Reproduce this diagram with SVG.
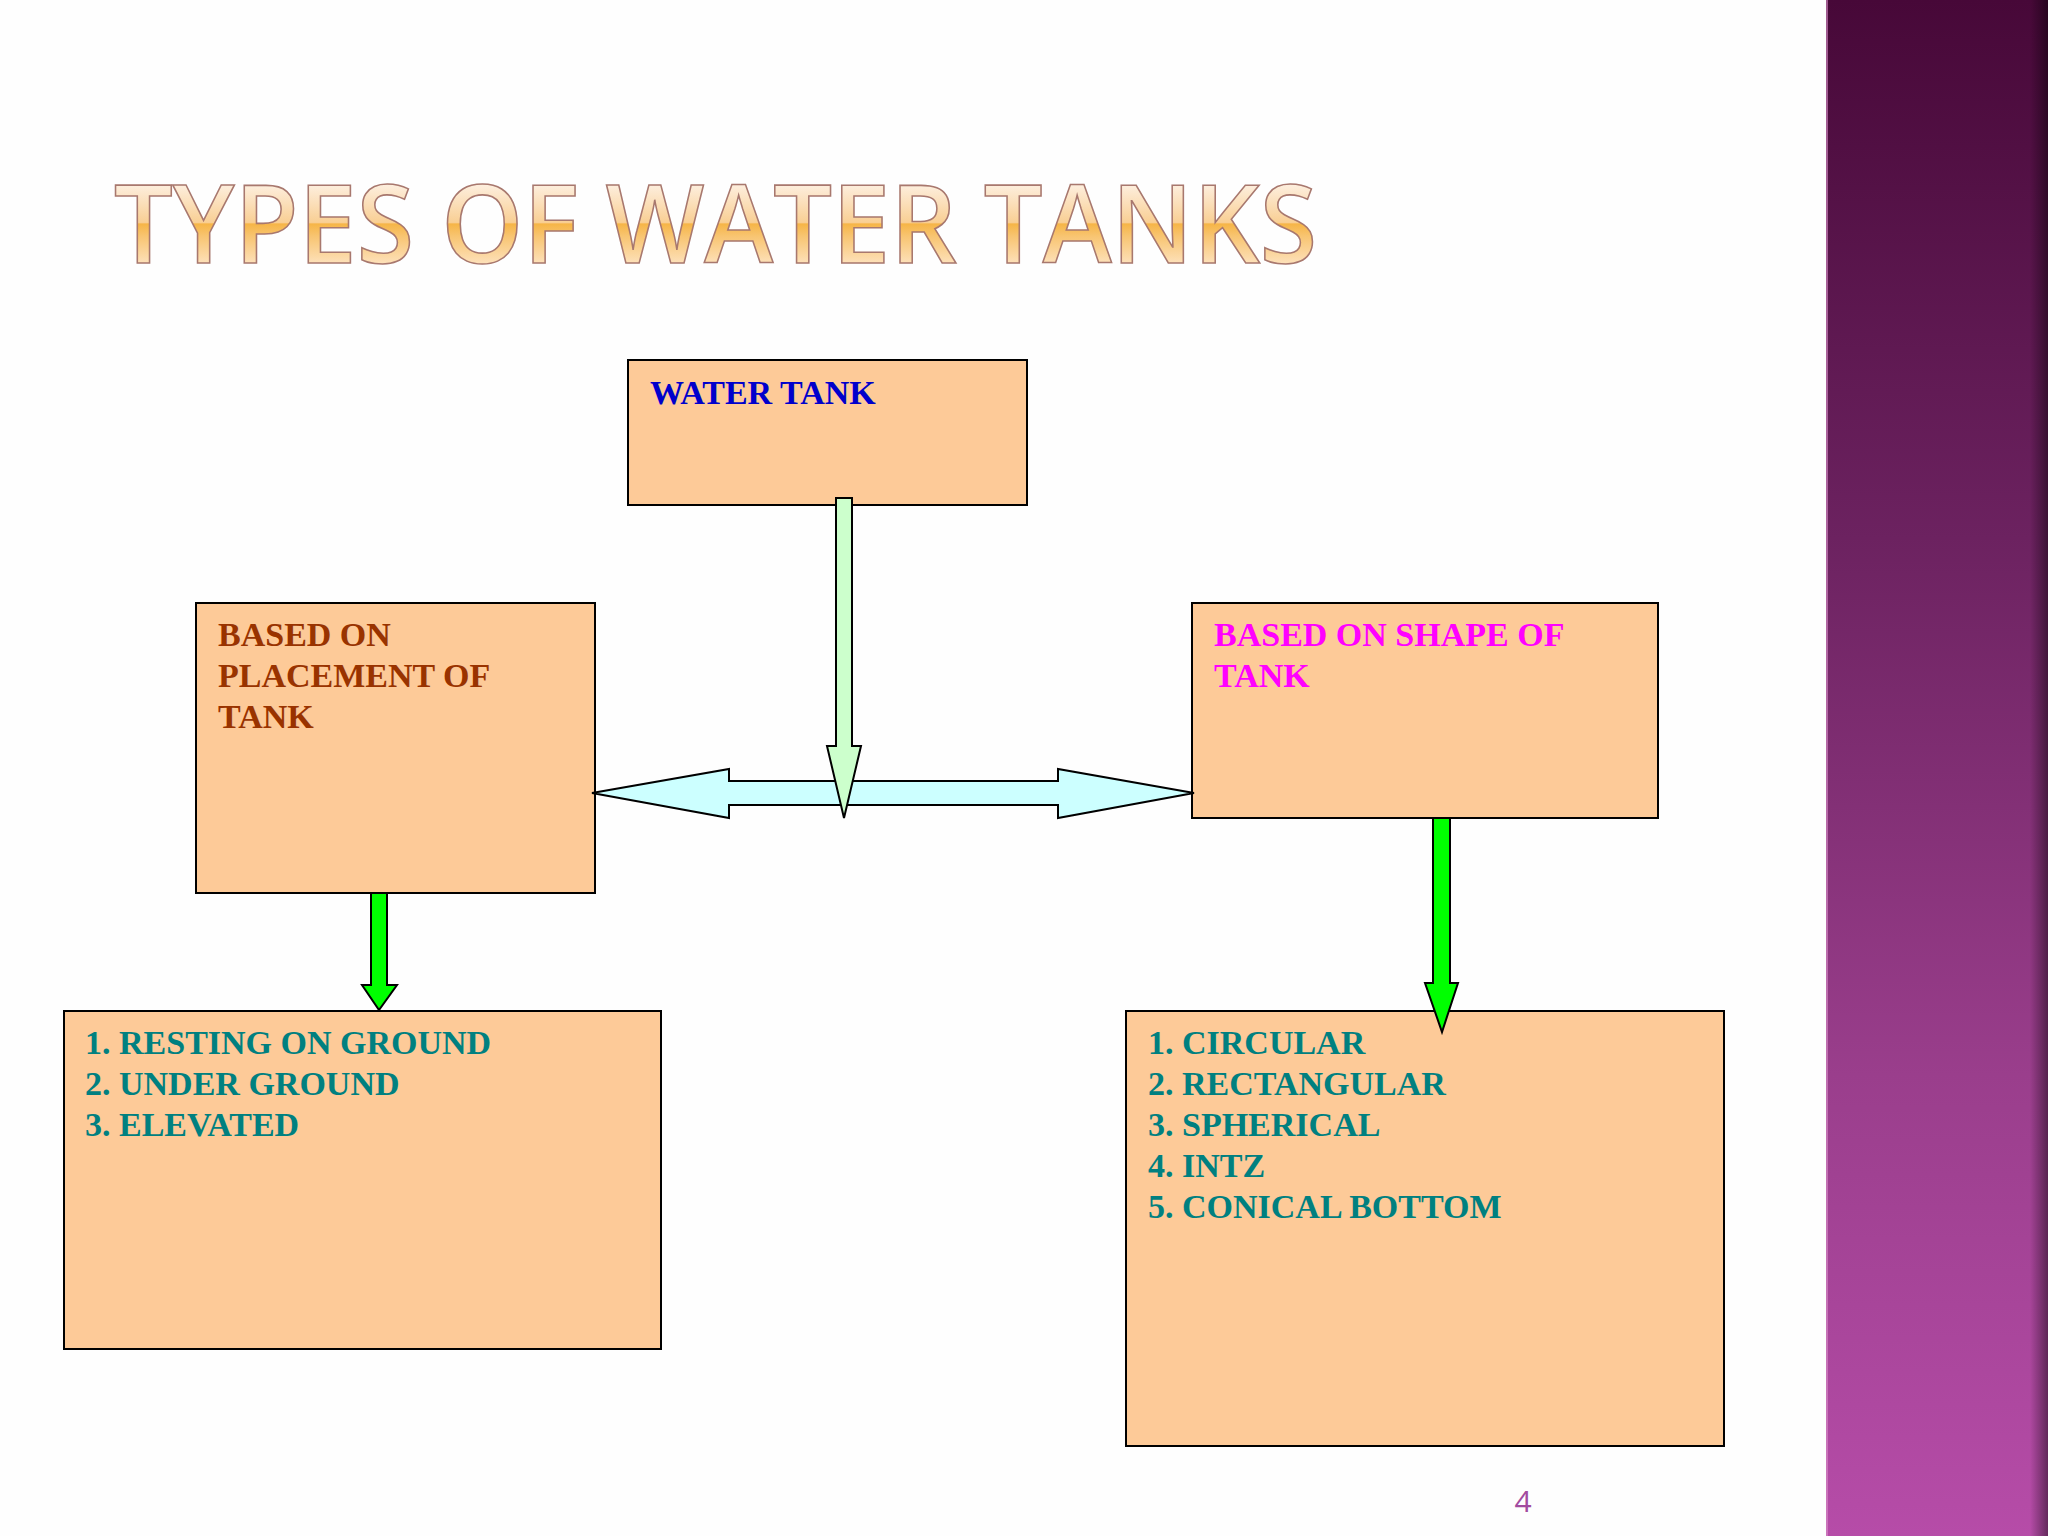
<svg xmlns="http://www.w3.org/2000/svg" width="2048" height="1536" viewBox="0 0 2048 1536">
<defs>
<linearGradient id="side" x1="0" y1="0" x2="0" y2="1">
<stop offset="0" stop-color="#470838"/>
<stop offset="0.35" stop-color="#6c2260"/>
<stop offset="0.7" stop-color="#9a3e8c"/>
<stop offset="1" stop-color="#b64ca8"/>
</linearGradient>
<linearGradient id="edge" x1="0" y1="0" x2="1" y2="0">
<stop offset="0" stop-color="#000" stop-opacity="0"/>
<stop offset="1" stop-color="#000" stop-opacity="0.45"/>
</linearGradient>
<linearGradient id="title" x1="0" y1="185" x2="0" y2="263" gradientUnits="userSpaceOnUse">
<stop offset="0" stop-color="#fdeedd"/>
<stop offset="0.48" stop-color="#f9cf94"/>
<stop offset="0.5" stop-color="#f6b547"/>
<stop offset="0.65" stop-color="#f8c470"/>
<stop offset="1" stop-color="#fde0b8"/>
</linearGradient>
<linearGradient id="boxfill" x1="0" y1="0" x2="1" y2="1">
<stop offset="0" stop-color="#fdca98"/>
<stop offset="1" stop-color="#ffcc99"/>
</linearGradient>
</defs>
<style>
.box{fill:#fdca98;stroke:#000;stroke-width:2}
.t{font-family:"Liberation Serif","Times New Roman",serif;font-weight:bold;font-size:34px}
.arrow{stroke:#000;stroke-width:2;stroke-linejoin:miter}
</style>
<rect x="0" y="0" width="2048" height="1536" fill="#fefefe"/>
<rect x="1826" y="0" width="222" height="1536" fill="url(#side)"/>
<rect x="2030" y="0" width="18" height="1536" fill="url(#edge)"/>
<rect x="1826" y="0" width="2" height="1536" fill="#d890c8" opacity="0.6"/>
<text x="114" y="263" font-family="'Open Sans','Noto Sans',sans-serif" font-size="108" font-weight="600" textLength="1203" lengthAdjust="spacingAndGlyphs" fill="url(#title)" stroke="#a8786e" stroke-width="1.6">TYPES OF WATER TANKS</text>
<g id="node-water-tank">
<rect class="box" x="628" y="360" width="399" height="145"/>
<text class="t" x="650" y="404" fill="#0000cc">WATER TANK</text>
</g>
<g id="node-placement">
<rect class="box" x="196" y="603" width="399" height="290"/>
<text class="t" fill="#993300"><tspan x="218" y="646">BASED ON</tspan><tspan x="218" y="687">PLACEMENT OF</tspan><tspan x="218" y="728">TANK</tspan></text>
</g>
<g id="node-shape">
<rect class="box" x="1192" y="603" width="466" height="215"/>
<text class="t" fill="#ff00ff"><tspan x="1214" y="646">BASED ON SHAPE OF</tspan><tspan x="1214" y="687">TANK</tspan></text>
</g>
<g id="node-placement-list">
<rect class="box" x="64" y="1011" width="597" height="338"/>
<text class="t" fill="#008080"><tspan x="85" y="1054">1. RESTING ON GROUND</tspan><tspan x="85" y="1095">2. UNDER GROUND</tspan><tspan x="85" y="1136">3. ELEVATED</tspan></text>
</g>
<g id="node-shape-list">
<rect class="box" x="1126" y="1011" width="598" height="435"/>
<text class="t" fill="#008080"><tspan x="1148" y="1054">1. CIRCULAR</tspan><tspan x="1148" y="1095">2. RECTANGULAR</tspan><tspan x="1148" y="1136">3. SPHERICAL</tspan><tspan x="1148" y="1177">4. INTZ</tspan><tspan x="1148" y="1218">5. CONICAL BOTTOM</tspan></text>
</g>
<g id="connectors">
<polygon class="arrow" fill="#ccffff" points="592,793 729,769 729,781 1058,781 1058,769 1194,793 1058,818 1058,805 729,805 729,818"/>
<polygon class="arrow" fill="#ccffcc" points="836,498 852,498 852,746 861,746 844,818 827,746 836,746"/>
<polygon class="arrow" fill="#00ff00" points="371,893 387,893 387,985 397,985 379,1010 362,985 371,985"/>
<polygon class="arrow" fill="#00ff00" points="1433,818 1450,818 1450,983 1458,983 1442,1032 1425,983 1433,983"/>
</g>
<text x="1523" y="1512" font-family="'Open Sans','Noto Sans',sans-serif" font-size="30" fill="#a24ba0" text-anchor="middle">4</text>
</svg>
